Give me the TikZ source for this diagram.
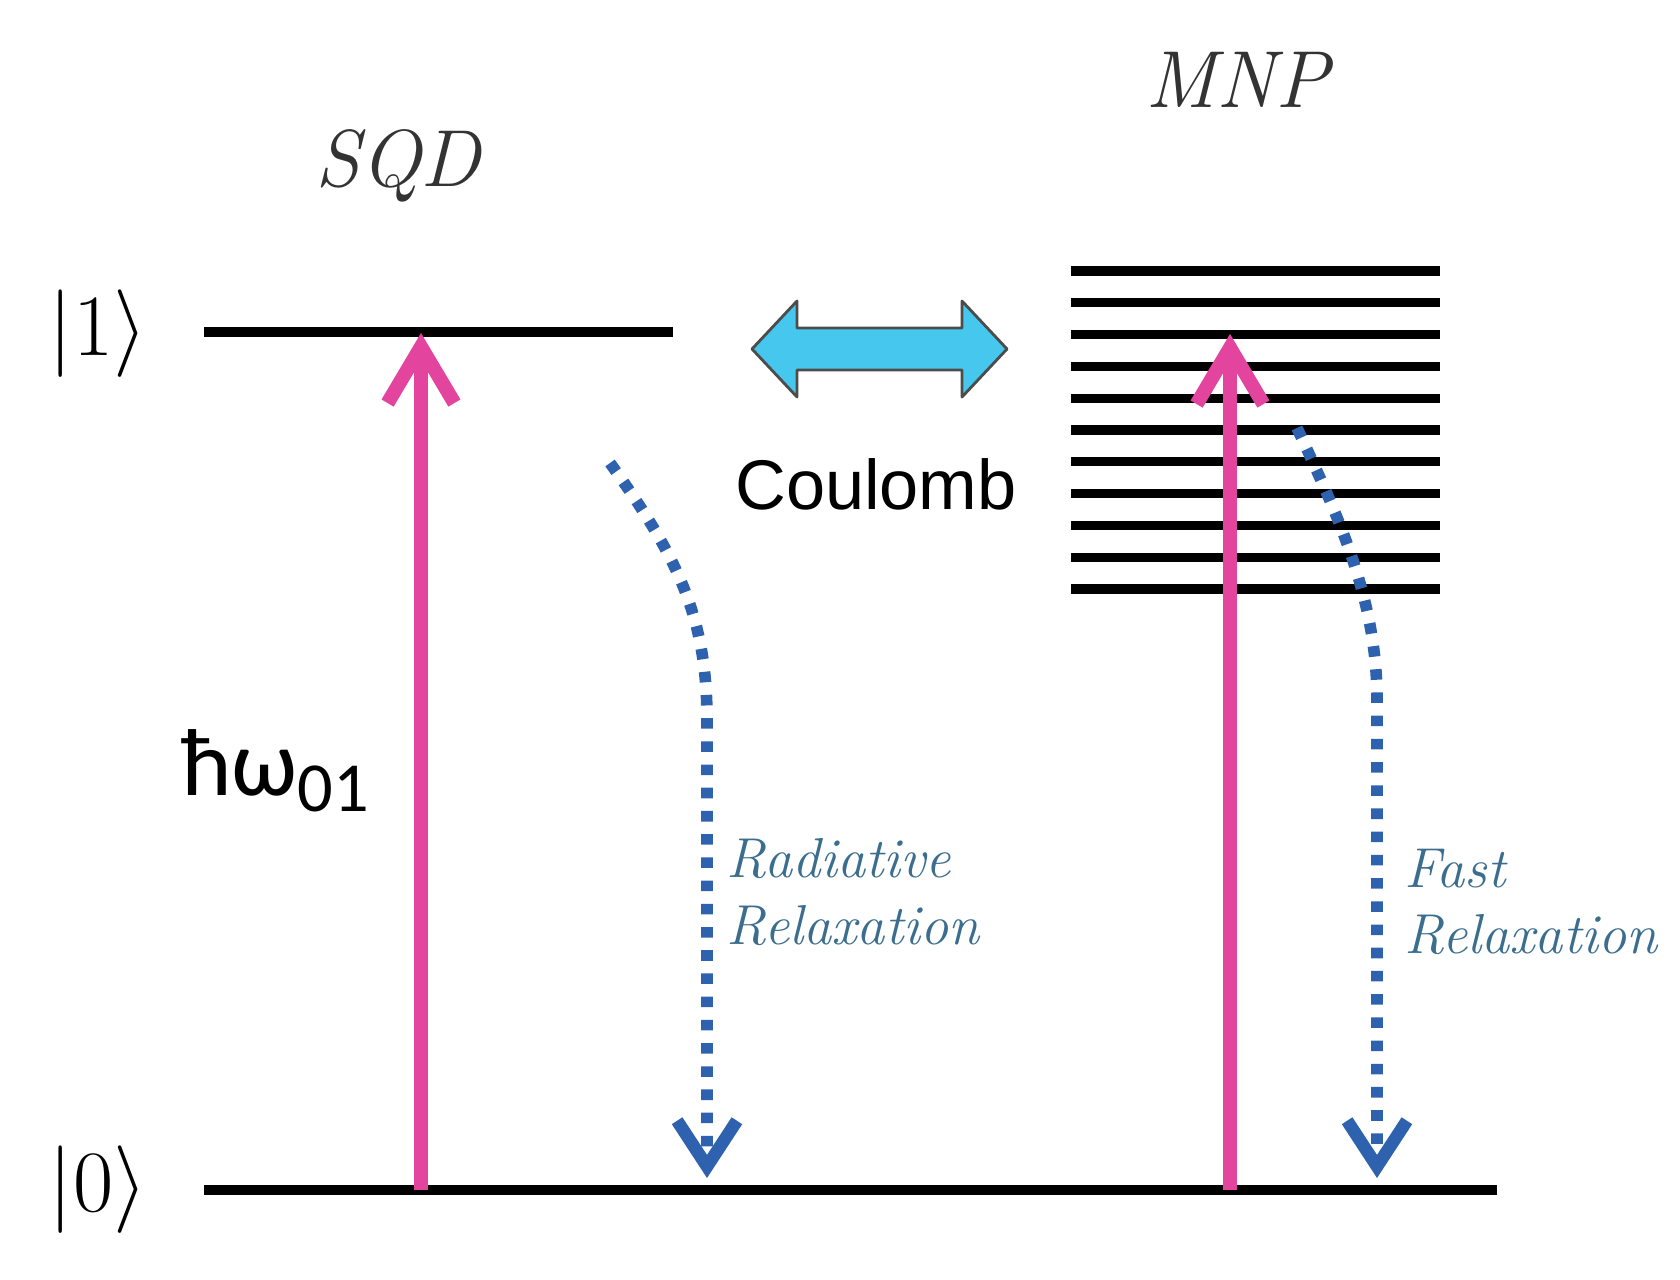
\documentclass[tikz,border=0pt]{standalone}
\usepackage{fontspec}
\setsansfont{Liberation Sans}
\newfontfamily\calib{Carlito}
\usetikzlibrary{arrows.meta}
\definecolor{pinkc}{HTML}{E2449E}
\definecolor{dotc}{HTML}{2F62AE}
\definecolor{txtc}{HTML}{3B6E8E}
\definecolor{cyanc}{HTML}{46C8EE}
\tikzset{
 level/.style={line width=2.9pt,black},
 mlevel/.style={line width=2.6pt,black},
 excite/.style={line width=4pt,pinkc,-{Straight Barb[length=16pt,width=19pt,line width=4pt]}},
 relax/.style={line width=3.3pt,dotc,dash pattern=on 3pt off 3.6pt,-{Straight Barb[length=13pt,width=17pt,line width=3.6pt]}},
 lbl/.style={font=\itshape\fontsize{16}{19}\selectfont,text=txtc,align=left,anchor=west,inner sep=0pt},
 title/.style={font=\itshape\fontsize{23}{28}\selectfont,text=black!80,inner sep=0pt},
 ket/.style={font=\fontsize{40}{42}\selectfont},
}
\begin{document}
\begin{tikzpicture}[x=0.01cm,y=-0.01cm]
\useasboundingbox (0,0) rectangle (1680,1279);
% SQD levels
\coordinate (s1a) at (204,332); \coordinate (s1b) at (673,332);
\coordinate (g0a) at (204,1190); \coordinate (g0b) at (1497,1190);
\draw[level] (s1a) -- (s1b);
\draw[level] (g0a) -- (g0b);
% MNP levels
\foreach \i in {0,...,10}{
  \coordinate (ma\i) at (1071,{271+31.8*\i});
  \coordinate (mb\i) at (1440,{271+31.8*\i});
  \draw[mlevel] (ma\i) -- (mb\i);
}
% labels
\node[ket] (k1) at (98,334) {$|1\rangle$};
\node[ket] (k0) at (98,1190) {$|0\rangle$};
\node[title] (sqd) at (398,166) {SQD};
\node[title] (mnp) at (1237,80) {MNP};
\node[font=\calib\fontsize{27}{30}\selectfont] (hw) at (276,771) {ħω$_{\hbox{\calib\fontsize{20}{22}\selectfont 01}}$};
\node[font=\sffamily\fontsize{20}{24}\selectfont] (cl) at (876,484) {Coulomb};
% excitation arrows
\coordinate (p1b) at (421,1190); \coordinate (p1t) at (421,333);
\coordinate (p2b) at (1230,1190); \coordinate (p2t) at (1230,334);
\draw[excite] (p1b) -- (p1t);
\draw[excite] (p2b) -- (p2t);
% coulomb double arrow
\coordinate (dl) at (752,349); \coordinate (dr) at (1007,349);
\draw[draw=black!70, line width=0.8pt, fill=cyanc, line join=round]
  (dl) -- ++(45,-48) -- ++(0,27) -- ++(165,0) -- ++(0,-27) -- (dr)
  -- ++(-45,48) -- ++(0,-27) -- ++(-165,0) -- ++(0,27) -- cycle;
% relaxation
\coordinate (r1s) at (610,463); \coordinate (r1e) at (707,1178);
\draw[relax] (r1s) .. controls (680,560) and (707,620) .. (707,720) -- (r1e);
\coordinate (r2s) at (1297,428); \coordinate (r2e) at (1377,1178);
\draw[relax] (r2s) .. controls (1340,520) and (1377,600) .. (1377,700) -- (r2e);
\node[lbl] (t1) at (726,892) {Radiative\\Relaxation};
\node[lbl] (t2) at (1404,902) {Fast\\Relaxation};
\end{tikzpicture}
\end{document}
